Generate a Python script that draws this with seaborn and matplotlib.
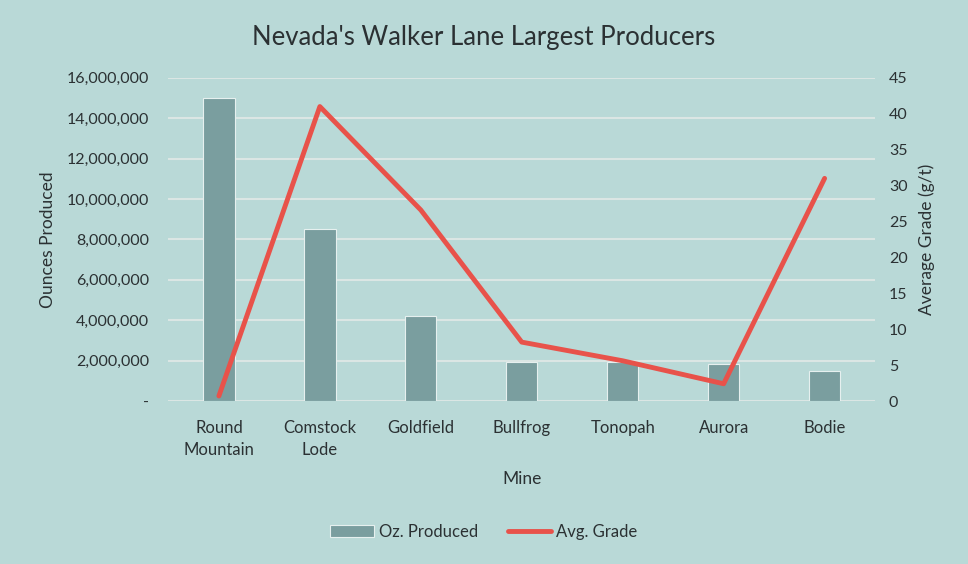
import matplotlib
matplotlib.use("Agg")
import matplotlib.pyplot as plt
import matplotlib.ticker as mticker
import seaborn as sns
import pandas as pd

# Data
mines = ["Round\nMountain", "Comstock\nLode", "Goldfield", "Bullfrog", "Tonopah", "Aurora", "Bodie"]
ounces = [15_000_000, 8_500_000, 4_200_000, 1_950_000, 1_950_000, 1_850_000, 1_500_000]
avg_grade = [0.7, 41.0, 26.6, 8.2, 5.6, 2.4, 31.0]

bg = "#b9d9d7"
bar_color = "#7a9e9f"
line_color = "#e8524a"
text_color = "#2b3133"

sns.set_theme(style="white")
plt.rcParams["font.family"] = ["Lato", "DejaVu Sans"]

df = pd.DataFrame({"Mine": mines, "Ounces": ounces, "Grade": avg_grade})

fig = plt.figure(figsize=(9.68, 5.64), dpi=100, facecolor=bg)
ax = fig.add_axes([0.174, 0.289, 0.730, 0.573])
ax.set_facecolor(bg)

sns.barplot(data=df, x="Mine", y="Ounces", color=bar_color, width=0.31,
            saturation=1, edgecolor="#e6f0ef", linewidth=0.8, ax=ax,
            label="Oz. Produced", zorder=2)

ax2 = ax.twinx()
sns.lineplot(data=df, x="Mine", y="Grade", color=line_color, linewidth=3.5,
             sort=False, ax=ax2, label="Avg. Grade", legend=False)

ax.set_ylim(0, 16_000_000)
ax.yaxis.set_major_locator(mticker.MultipleLocator(2_000_000))
ax.yaxis.set_major_formatter(mticker.FuncFormatter(lambda v, p: "-" if v == 0 else f"{int(v):,}"))
ax2.set_ylim(0, 45)
ax2.yaxis.set_major_locator(mticker.MultipleLocator(5))
ax.set_xlim(-0.5, 6.5)

ax.yaxis.grid(True, color="#dbe6e4", linewidth=1.5, zorder=0)
ax.set_axisbelow(True)
for a in (ax, ax2):
    for s in a.spines.values():
        s.set_visible(False)
    a.tick_params(length=0, colors=text_color, labelsize=11.5)

ax.tick_params(axis="x", pad=14, labelsize=12)
ax.tick_params(axis="y", pad=14)
ax2.tick_params(axis="y", pad=10)
for lbl in ax.get_xticklabels():
    lbl.set_linespacing(1.45)

ax.set_xlabel("Mine", fontsize=12.5, color=text_color, labelpad=9)
ax.set_ylabel("Ounces Produced", fontsize=12.5, color=text_color, labelpad=8)
ax2.set_ylabel("Average Grade (g/t)", fontsize=12.5, color=text_color, labelpad=8)

fig.text(0.5, 0.933, "Nevada's Walker Lane Largest Producers", ha="center", va="center",
         fontsize=18.5, color=text_color)

h1, l1 = ax.get_legend_handles_labels()
h2, l2 = ax2.get_legend_handles_labels()
if ax.get_legend() is not None:
    ax.get_legend().remove()
fig.legend(h1 + h2, l1 + l2, loc="center", bbox_to_anchor=(0.5, 0.057), ncol=2,
           frameon=False, fontsize=12, labelcolor=text_color, handlelength=2.6,
           handletextpad=0.3, columnspacing=1.8)

fig.savefig("out.png", dpi=100, facecolor=bg)
